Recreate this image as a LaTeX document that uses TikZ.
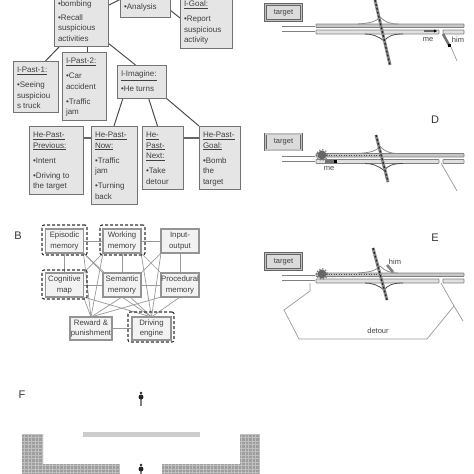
\documentclass[tikz,border=0pt]{standalone}
\usepackage{fontspec}
\setmainfont{Liberation Sans}
\usetikzlibrary{shadows,backgrounds}
\definecolor{ink}{gray}{0.25}
\tikzset{
  abox/.style={draw=black!55,line width=0.9pt,fill=black!10,inner xsep=4pt,inner ysep=0pt,outer sep=0pt,anchor=north west,
    copy shadow={shadow xshift=1.3pt,shadow yshift=-1.3pt,draw=none,fill=black!50},
    text=ink,font=\fontsize{8}{10.5}\selectfont},
  bbox/.style={draw=black!42,line width=1.2pt,fill=black!5,inner sep=0pt,outer sep=0pt,align=center,text=ink,
    minimum width=38pt,minimum height=24pt,font=\fontsize{7.8}{10.5}\selectfont},
  dbox/.style={draw=black!80,dash pattern=on 3pt off 2pt,line width=1.1pt,rounded corners=2pt,inner sep=0pt},
  aline/.style={draw=black!70,line width=1pt},
  thickline/.style={draw=black!60,line width=2.2pt},
  bline/.style={draw=black!40,line width=0.7pt},
  plabel/.style={font=\fontsize{11}{12}\selectfont,text=black!80,inner sep=0pt},
  tbox/.style={draw=black!60,line width=0.8pt,double=black!25,double distance=1.2pt,fill=black!14,minimum width=36pt,minimum height=16pt,inner sep=0pt,text=ink,font=\fontsize{7.5}{9}\selectfont},
  rlabel/.style={font=\fontsize{7.5}{9}\selectfont,text=ink,inner sep=0pt},
  band/.style={draw=black!50,line width=0.7pt,fill=black!22,rounded corners=0.6pt},
  thinroad/.style={draw=black!50,line width=0.8pt},
  ramp/.style={draw=black!45,line width=0.8pt},
  crossa/.style={draw=black!45,line width=3pt},
  crossb/.style={draw=black!85,line width=1.3pt,dash pattern=on 2pt off 2pt},
  wall/.style={fill=black!38},
}
\newcommand{\bx}[6]{%
  \pgfmathsetmacro\bw{#4-#2}\pgfmathsetmacro\bh{#5-#3}\pgfmathsetmacro\bt{\bw-8}%
  \node[abox,minimum width=\bw pt,minimum height=\bh pt] (#1) at (#2,#3)
    {\parbox[c][\bh pt][t]{\bt pt}{\raggedright\vspace*{6pt}#6}};}
\newcommand{\roadset}[1]{%
  \begin{scope}[yshift=-#1 pt]
    \draw[thinroad] (282,26.5) -- (315,26.5);
    \draw[thinroad] (282,31.5) -- (315,31.5);
    \draw[band] (316,24) rectangle (464,27.5);
    \draw[band,fill=black!12] (316,30) rectangle (439,34);
    \draw[band,fill=black!12] (443,30) rectangle (464,34);
    \draw[ramp] (358,24) .. controls (370,23) and (376,22) .. (380,17);
    \draw[ramp] (380,17) .. controls (385,22) and (390,24) .. (398,24);
    \draw[ramp,draw=black!70] (365,34) .. controls (372,34) and (378,36) .. (384,41);
    \draw[ramp,draw=black!70] (384,41) .. controls (388,36) and (393,34) .. (403,34);
  \end{scope}}
\newcommand{\person}[2]{%
  \fill[black!50] (#1-1.2,#2) rectangle (#1+1.2,#2+8);
  \fill[black!85] (#1,#2-1) circle (2.5);
  \fill[black!85] (#1,#2-5) circle (1.3);}
\begin{document}
\begin{tikzpicture}[x=1pt,y=-1pt]
\clip (0,0) rectangle (474,474);

% Panel A
\bx{top}{54}{-5}{108}{46}{•bombing\\[3pt]•Recall\\suspicious\\activities}
\bx{ana}{120}{-20}{170}{17}{\vspace*{18pt}•Analysis}
\bx{goal}{180}{-5}{232}{48}{\underline{I-Goal:}\\[4.5pt]•Report\\suspicious\\activity}
\bx{pa}{13}{61}{58}{112}{\underline{I-Past-1:}\\[4.5pt]•Seeing\\suspiciou\\s truck}
\bx{pb}{62}{52}{106}{120}{\underline{I-Past-2:}\\[4.5pt]•Car\\accident\\[4.5pt]•Traffic\\jam}
\bx{ima}{117}{65}{166}{98}{\underline{I-Imagine:}\\[4.5pt]•He turns}
\bx{hprev}{29}{126}{83}{194}{\underline{He-Past-}\\\underline{Previous:}\\[4.5pt]•Intent\\[4.5pt]•Driving to\\the target}
\bx{hnow}{91}{126}{137}{204}{\underline{He-Past-}\\\underline{Now:}\\[4.5pt]•Traffic\\jam\\[4.5pt]•Turning\\back}
\bx{hnext}{142}{126}{183}{189}{\underline{He-}\\\underline{Past-}\\\underline{Next:}\\[4.5pt]•Take\\detour}
\bx{hgoal}{199}{126}{240}{189}{\underline{He-Past-}\\\underline{Goal:}\\[4.5pt]•Bomb\\the\\target}
\begin{scope}[on background layer]
  \draw[aline] ([xshift=6pt]top.south west) -- ([xshift=10pt]pa.north);
  \draw[aline] ([xshift=6pt]top.south) -- ([xshift=3pt]pb.north);
  \draw[aline] ([yshift=3pt]top.south east) -- ([xshift=-6pt]ima.north);
  \draw[aline] ([yshift=15pt]top.east) -- ([yshift=-1pt]ana.west);
  \draw[aline] ([yshift=7pt]ana.south east) -- ([yshift=-23pt]goal.north west);
  \draw[aline] ([xshift=6pt]ima.south west) -- (hnow.north);
  \draw[aline] ([xshift=7pt]ima.south) -- ([xshift=-5pt]hnext.north);
  \draw[aline] (ima.south east) -- (hgoal.north west);
  \draw[thickline] ([yshift=22pt]hprev.east) -- ([yshift=27pt]hnow.west);
  \draw[thickline] ([yshift=19.5pt]hnext.east) -- ([yshift=19.5pt]hgoal.west);
\end{scope}

% Panel B
\node[plabel] (lb) at (18,236) {B};
\node[bbox] (ep) at (64.5,241) {Episodic\\memory};
\node[bbox] (wo) at (122,241) {Working\\memory};
\node[bbox] (io) at (180,241) {Input-\\output};
\node[bbox] (co) at (64.5,285) {Cognitive\\map};
\node[bbox] (se) at (122,285) {Semantic\\memory};
\node[bbox] (pr) at (180,285) {Procedural\\memory};
\node[bbox,minimum width=42pt,minimum height=23pt] (re) at (91,328.5) {Reward \&\\punishment};
\node[bbox,minimum width=39pt,minimum height=23pt] (dr) at (151.5,328.5) {Driving\\engine};
\node[dbox,minimum width=45pt,minimum height=30pt] (dep) at (64.5,240) {};
\node[dbox,minimum width=45pt,minimum height=30pt] (dwo) at (122.5,240) {};
\node[dbox,minimum width=45pt,minimum height=29pt] (dco) at (64.5,284.5) {};
\node[dbox,minimum width=46pt,minimum height=30pt] (ddr) at (151,327) {};
\begin{scope}[on background layer]
  \draw[bline] (ep) -- (wo);
  \draw[bline] (wo) -- (io);
  \draw[bline] (ep) -- (co);
  \draw[bline] (wo) -- (se);
  \draw[bline] (io) -- (pr);
  \draw[bline] (co) -- (se);
  \draw[bline] (se) -- (pr);
  \draw[bline] (re) -- (dr);
  \draw[bline] (wo.south west) -- (co.north east);
  \draw[bline] (wo.south east) -- (pr.north west);
  \draw[bline] (io.south west) -- (se.north east);
  \draw[bline] (ep.south east) -- (se.north west);
  \draw[bline] (ep.south east) -- (re.north);
  \draw[bline] (ep.south east) -- (dr.north);
  \draw[bline] (wo.south west) -- (re.north);
  \draw[bline] (wo.south east) -- (dr.north);
  \draw[bline] (io.south west) -- (dr.north);
  \draw[bline] (co.south east) -- (re.north);
  \draw[bline] (co.south east) -- (dr.north);
  \draw[bline] (se.south) -- (re.north);
  \draw[bline] (se.south) -- (dr.north);
  \draw[bline] (pr.south west) -- (re.north);
  \draw[bline] (pr.south) -- (dr.north);
\end{scope}

% Panel C
\node[tbox] (tc) at (283.5,12.5) {target};
\roadset{0}
\draw[crossa] (375,0) -- (390,65);
\draw[crossb] (375,0) -- (390,65);
\draw[draw=black!60,line width=2.6pt] (424,31) -- (434,31);
\fill[black] (434,29.5) -- (437,31) -- (434,32.5) -- cycle;
\draw[draw=black!55,line width=2.6pt] (443,34) -- (449,45);
\fill[black] (448,44) rectangle (451,47);
\draw[bline] (451,47) -- (457,61);
\node[rlabel] (me1) at (428,39.5) {me};
\node[rlabel] (him1) at (458,39.5) {him};

% Panel D
\node[plabel] (ld) at (435,120) {D};
\node[tbox] (td) at (283.5,142) {target};
\roadset{129.5}
\draw[crossa] (376,135) -- (388,182);
\draw[crossb] (376,135) -- (388,182);
\draw[draw=black!70,line width=1pt,dash pattern=on 1pt off 1.5pt] (326,155.5) -- (380,155.5);
\fill[black!60] (322,155) circle (4.5);
\draw[black!55,dotted,line width=1.2pt] (322,155) circle (5.5);
\draw[draw=black!55,line width=2.6pt] (325,161.5) -- (334,161.5);
\fill[black] (334,160) rectangle (337,163);
\draw[bline] (441,163) -- (457,191);
\node[rlabel] (me2) at (329,169) {me};

% Panel E
\node[plabel] (le) at (435,238) {E};
\node[tbox] (te) at (283.5,261.5) {target};
\roadset{249}
\draw[crossa] (373,248) -- (387,300);
\draw[crossb] (373,248) -- (387,300);
\draw[draw=black!70,line width=1pt,dash pattern=on 1pt off 1.5pt] (326,274.5) -- (380,274.5);
\fill[black!60] (322,274) circle (4.5);
\draw[black!55,dotted,line width=1.2pt] (322,274) circle (5.5);
\draw[draw=black!50,line width=2.6pt] (387,265) -- (393,272);
\node[rlabel] (him3) at (395,262) {him};
\coordinate (da) at (310,283);
\coordinate (db) at (441,283);
\coordinate (dc) at (454,306);
\draw[bline] (da) -- (310,291) -- (284,310) -- (299,339) -- (427,339) -- (dc);
\draw[bline] (db) -- (dc) -- (463,321);
\node[rlabel] (det) at (378,331) {detour};

% Panel F
\node[plabel] (lf) at (22,395) {F};
\person{141}{398}
\fill[black!20] (83,432) rectangle (200,437);
\begin{scope}
  \clip (22,434) -- (43,434) -- (43,464) -- (120,464) -- (120,474) -- (22,474) -- cycle;
  \fill[wall] (22,434) rectangle (120,474);
  \draw[black!25,line width=0.5pt,step=3.5pt] (22,434) grid (120,474);
\end{scope}
\begin{scope}
  \clip (240,434) -- (260,434) -- (260,474) -- (162,474) -- (162,464) -- (240,464) -- cycle;
  \fill[wall] (162,434) rectangle (260,474);
  \draw[black!25,line width=0.5pt,step=3.5pt] (162,434) grid (260,474);
\end{scope}
\person{141}{470}
\end{tikzpicture}
\end{document}
